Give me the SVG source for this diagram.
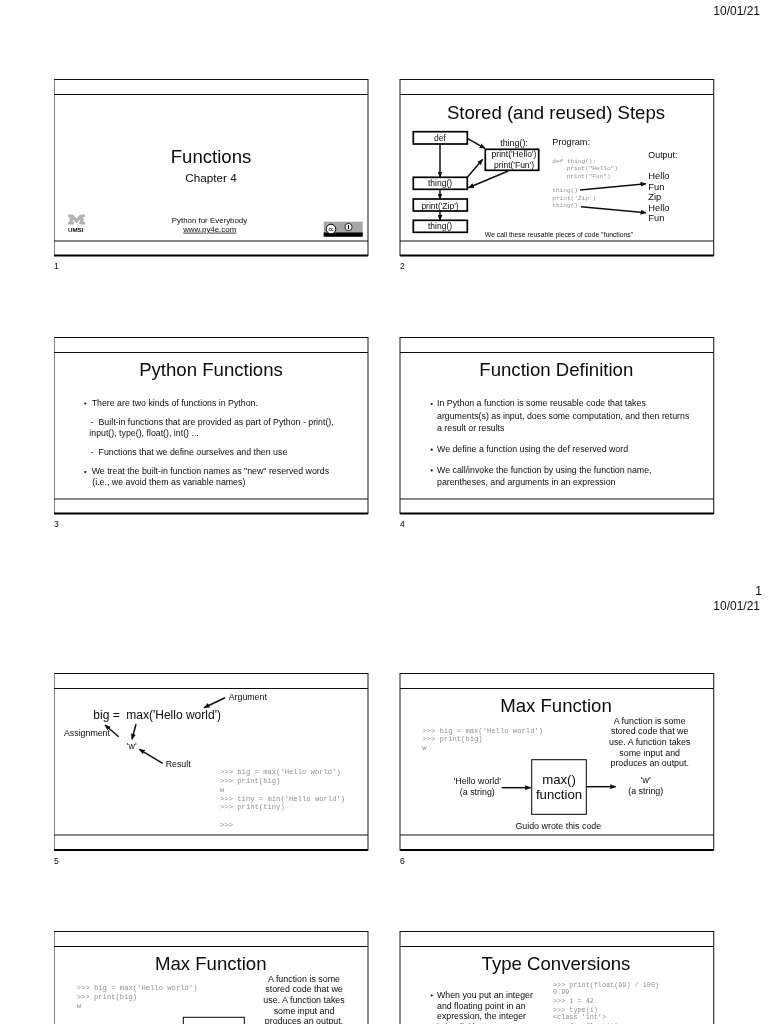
<svg xmlns="http://www.w3.org/2000/svg" width="768" height="1024" viewBox="0 0 768 1024">
<style>
text{font-family:"Liberation Sans",Arial,sans-serif;fill:#0a0a0a}
.frame{fill:#fff;stroke:#111;stroke-width:1}
.rule{stroke:#111;stroke-width:1}
.base{stroke:#000;stroke-width:2}
.title{font-size:18.6px;text-anchor:middle}
.date{font-size:12px;text-anchor:end}
.pg{font-size:8.5px}
.b{font-size:8.8px}
.s{font-size:8.9px;text-anchor:middle}
.f{font-size:8.5px;text-anchor:middle}
.code{font-family:"Liberation Mono","Courier New",monospace;fill:#8f8f8f}
.c6{font-size:6.1px}
.c7{font-size:7.2px}
.box{fill:#fff;stroke:#000;stroke-width:1.7}
.arr{fill:none;stroke:#111;stroke-width:1.5;marker-end:url(#ah)}
.dot{fill:#111}
</style>
<defs>
<marker id="ah" markerUnits="userSpaceOnUse" markerWidth="6" markerHeight="5" refX="5.5" refY="2.5" orient="auto"><path d="M0 0L6 2.5L0 5z" fill="#111"/></marker>
<filter id="soft" x="0" y="0" width="100%" height="100%"><feGaussianBlur stdDeviation="0.3"/></filter>
</defs>
<rect width="768" height="1024" fill="#fff"/>
<g id="page" filter="url(#soft)">
<g id="page-marks">
<text class="date" x="760" y="14.5">10/01/21</text>
<text class="date" x="762" y="595">1</text>
<text class="date" x="760" y="610">10/01/21</text>
</g>

<g id="slide-1">
<rect class="frame" x="54" y="79.5" width="314" height="176"/>
<path class="rule" d="M54 94.5H368M54 241H368"/><path class="base" d="M54 255.5H368"/>
<text class="title" x="211" y="162.7">Functions</text>
<text x="211" y="182" font-size="11.7" text-anchor="middle">Chapter 4</text>
<text x="209.5" y="222.7" font-size="7.9" text-anchor="middle">Python for Everybody</text>
<text x="209.7" y="231.7" font-size="7.9" text-anchor="middle" text-decoration="underline">www.py4e.com</text>
<g id="umsi-logo">
<path d="M68 214.5H73L76.5 218.5L80 214.5H85V217H83.5V222H85V224.5H79V222H80V219.5L76.5 223.5L73 219.5V222H74V224.5H68V222H69.5V217H68z" fill="#b3b3b3"/>
<text x="68" y="232" font-size="6.2" font-weight="bold" fill="#555">UMSI</text>
</g>
<g id="cc-badge">
<rect x="323.7" y="221.7" width="39" height="15" fill="#a6a6a6"/>
<rect x="323.7" y="232.5" width="39" height="4.2" fill="#000"/>
<circle cx="331" cy="229" r="4.8" fill="#fff" stroke="#000" stroke-width="1"/>
<text x="331" y="230.6" font-size="4.5" font-weight="bold" text-anchor="middle" fill="#000">cc</text>
<circle cx="348.5" cy="227" r="3.6" fill="#fff" stroke="#000" stroke-width=".8"/>
<path d="M348.5 225v4" stroke="#000" stroke-width="1.2"/>
</g>
<text class="pg" x="54" y="269">1</text>
</g>

<g id="slide-2">
<rect class="frame" x="400" y="79.5" width="313.7" height="176"/>
<path class="rule" d="M400 94.5H713.7M400 241H713.7"/><path class="base" d="M400 255.5H713.7"/>
<text class="title" x="556" y="118.7">Stored (and reused) Steps</text>
<g id="n-def"><rect class="box" x="413.3" y="131.7" width="54" height="12.3"/><text class="f" x="440" y="140.7">def</text></g>
<g id="n-thing1"><rect class="box" x="413.3" y="177.3" width="54" height="12"/><text class="f" x="440" y="186.3">thing()</text></g>
<g id="n-zip"><rect class="box" x="413.3" y="199" width="54" height="12"/><text class="f" x="440" y="208.7">print('Zip')</text></g>
<g id="n-thing2"><rect class="box" x="413.3" y="220.3" width="54" height="12"/><text class="f" x="440" y="229.3">thing()</text></g>
<g id="n-stored">
<text class="s" x="514" y="145.7">thing():</text>
<rect class="box" x="485.3" y="149.3" width="53.4" height="21"/>
<text class="f" x="514" y="156.7">print('Hello')</text>
<text class="f" x="514" y="168">print('Fun')</text>
</g>
<text x="552.3" y="144.7" font-size="9.2">Program:</text>
<text x="648.3" y="157.7" font-size="8.9">Output:</text>
<g font-size="9.3">
<text x="648.3" y="179">Hello</text><text x="648.3" y="189.7">Fun</text><text x="648.3" y="200.3">Zip</text><text x="648.3" y="211.3">Hello</text><text x="648.3" y="221.3">Fun</text>
</g>
<text class="code c6" x="552.3" y="162.7">def thing():</text>
<text class="code c6" x="566.7" y="170">print("Hello")</text>
<text class="code c6" x="566.7" y="177.7">print("Fun")</text>
<text class="code c6" x="552.3" y="192">thing()</text>
<text class="code c6" x="552.3" y="200.3">print('Zip')</text>
<text class="code c6" x="552.3" y="207.3">thing()</text>
<text x="559" y="237.3" font-size="6.8" text-anchor="middle">We call these reusable pieces of code "functions"</text>
<text class="pg" x="400" y="269">2</text>
</g>

<g id="slide-3">
<rect class="frame" x="54" y="337.5" width="314" height="176"/>
<path class="rule" d="M54 352.5H368M54 499H368"/><path class="base" d="M54 513.5H368"/>
<text class="title" x="211" y="375.7">Python Functions</text>
<circle class="dot" cx="85.3" cy="403.5" r="1.1"/>
<text class="b" x="91.7" y="405.7">There are two kinds of functions in Python.</text>
<text class="b" x="90.7" y="425" xml:space="preserve">-  Built-in functions that are provided as part of Python - print(),</text>
<text class="b" x="89.3" y="436">input(), type(), float(), int() ...</text>
<text class="b" x="90.7" y="455" xml:space="preserve">-  Functions that we define ourselves and then use</text>
<circle class="dot" cx="85.3" cy="472" r="1.1"/>
<text class="b" x="91.7" y="474.3">We treat the built-in function names as "new" reserved words</text>
<text class="b" x="92.3" y="485.3">(i.e., we avoid them as variable names)</text>
<text class="pg" x="54" y="527">3</text>
</g>

<g id="slide-4">
<rect class="frame" x="400" y="337.5" width="313.7" height="176"/>
<path class="rule" d="M400 352.5H713.7M400 499H713.7"/><path class="base" d="M400 513.5H713.7"/>
<text class="title" x="556.3" y="375.7">Function Definition</text>
<circle class="dot" cx="431.7" cy="404" r="1.1"/>
<text class="b" x="437" y="406.3">In Python a function is some reusable code that takes</text>
<text class="b" x="437" y="418.7">arguments(s) as input, does some computation, and then returns</text>
<text class="b" x="437" y="431">a result or results</text>
<circle class="dot" cx="431.7" cy="449.7" r="1.1"/>
<text class="b" x="437" y="452">We define a function using the def reserved word</text>
<circle class="dot" cx="431.7" cy="470.4" r="1.1"/>
<text class="b" x="437" y="472.7">We call/invoke the function by using the function name,</text>
<text class="b" x="437" y="484.7">parentheses, and arguments in an expression</text>
<text class="pg" x="400" y="527">4</text>
</g>

<g id="slide-5">
<rect class="frame" x="54" y="673.5" width="314" height="176.5"/>
<path class="rule" d="M54 688.5H368M54 835H368"/><path class="base" d="M54 850H368"/>
<text x="93.3" y="718.7" font-size="12" xml:space="preserve">big =  max('Hello world')</text>
<text class="b" x="228.7" y="700">Argument</text>
<text class="b" x="64" y="736">Assignment</text>
<text class="s" x="131.7" y="748.7">'w'</text>
<text class="b" x="165.7" y="766.7">Result</text>
<text class="code c7" x="220" y="773.7">&gt;&gt;&gt; big = max('Hello world')</text>
<text class="code c7" x="220" y="782.7">&gt;&gt;&gt; print(big)</text>
<text class="code c7" x="220" y="791.7">w</text>
<text class="code c7" x="220" y="800.7">&gt;&gt;&gt; tiny = min('Hello world')</text>
<text class="code c7" x="220" y="809.3">&gt;&gt;&gt; print(tiny)</text>
<text class="code c7" x="220" y="827.3">&gt;&gt;&gt;</text>
<text class="pg" x="54" y="864">5</text>
</g>

<g id="slide-6">
<rect class="frame" x="400" y="673.5" width="313.7" height="176.5"/>
<path class="rule" d="M400 688.5H713.7M400 835H713.7"/><path class="base" d="M400 850H713.7"/>
<text class="title" x="556" y="712">Max Function</text>
<text class="code c7" x="422.3" y="732.7">&gt;&gt;&gt; big = max('Hello world')</text>
<text class="code c7" x="422.3" y="741.3">&gt;&gt;&gt; print(big)</text>
<text class="code c7" x="422.3" y="750">w</text>
<text class="s" x="649.7" y="724.3">A function is some</text>
<text class="s" x="649.7" y="734.3">stored code that we</text>
<text class="s" x="649.7" y="744.7">use. A function takes</text>
<text class="s" x="649.7" y="755.7">some input and</text>
<text class="s" x="649.7" y="766">produces an output.</text>
<g id="n-max">
<rect x="531.7" y="759.7" width="54.6" height="54.6" fill="#fff" stroke="#000" stroke-width="1"/>
<text x="559" y="784" font-size="13.2" text-anchor="middle">max()</text>
<text x="559" y="799.3" font-size="13.2" text-anchor="middle">function</text>
</g>
<text class="s" x="477.3" y="784.3">'Hello world'</text>
<text class="s" x="477.3" y="795.3">(a string)</text>
<text class="s" x="645.7" y="783.3">'w'</text>
<text class="s" x="645.7" y="794.3">(a string)</text>
<text class="s" x="558.3" y="829">Guido wrote this code</text>
<text class="pg" x="400" y="864">6</text>
</g>

<g id="slide-7">
<rect class="frame" x="54" y="931.5" width="314" height="120"/>
<path class="rule" d="M54 946.5H368"/>
<text class="title" x="210.7" y="970">Max Function</text>
<text class="code c7" x="76.7" y="990.3">&gt;&gt;&gt; big = max('Hello world')</text>
<text class="code c7" x="76.7" y="999.3">&gt;&gt;&gt; print(big)</text>
<text class="code c7" x="76.7" y="1008">w</text>
<text class="s" x="304" y="982.3">A function is some</text>
<text class="s" x="304" y="992.3">stored code that we</text>
<text class="s" x="304" y="1002.7">use. A function takes</text>
<text class="s" x="304" y="1013.7">some input and</text>
<text class="s" x="304" y="1024">produces an output.</text>
<rect x="183.3" y="1017.3" width="61" height="40" fill="#fff" stroke="#000" stroke-width="1"/>
</g>

<g id="slide-8">
<rect class="frame" x="400" y="931.5" width="313.7" height="120"/>
<path class="rule" d="M400 946.5H713.7"/>
<text class="title" x="556" y="970">Type Conversions</text>
<circle class="dot" cx="431.7" cy="995.5" r="1.1"/>
<text x="437" y="997.7" font-size="8.8">When you put an integer</text>
<text x="437" y="1009" font-size="8.8">and floating point in an</text>
<text x="437" y="1019.3" font-size="8.8">expression, the integer</text>
<text x="437" y="1030" font-size="8.8">is implicitly</text>
<text class="code" font-size="6.8" x="553" y="986.7">&gt;&gt;&gt; print(float(99) / 100)</text>
<text class="code" font-size="6.8" x="553" y="994">0.99</text>
<text class="code" font-size="6.8" x="553" y="1003.3">&gt;&gt;&gt; i = 42</text>
<text class="code" font-size="6.8" x="553" y="1011.7">&gt;&gt;&gt; type(i)</text>
<text class="code" font-size="6.8" x="553" y="1019">&lt;class 'int'&gt;</text>
<text class="code" font-size="6.8" x="553" y="1027.5">&gt;&gt;&gt; f = float(i)</text>
</g>

<g id="connectors">
<path class="arr" d="M467.3 138.3L485 148.3"/>
<path class="arr" d="M440 144V177"/>
<path class="arr" d="M440 189.3V199"/>
<path class="arr" d="M440 211V220.3"/>
<path class="arr" d="M467.3 177.3L482.7 159.3"/>
<path class="arr" d="M508.3 171L468.3 187.7"/>
<path class="arr" d="M580 190L646 183.7"/>
<path class="arr" d="M581 206.7L646 212.7"/>
<path class="arr" d="M225 697.7L204 707.7"/>
<path class="arr" d="M118.7 736.7L105 725"/>
<path class="arr" d="M136 724.3L132 739.3"/>
<path class="arr" d="M162.7 763.3L139.3 749.3"/>
<path class="arr" d="M501.7 787.7H530.7"/>
<path class="arr" d="M586.7 786.7H615.7"/>
</g>
</g>
</svg>
